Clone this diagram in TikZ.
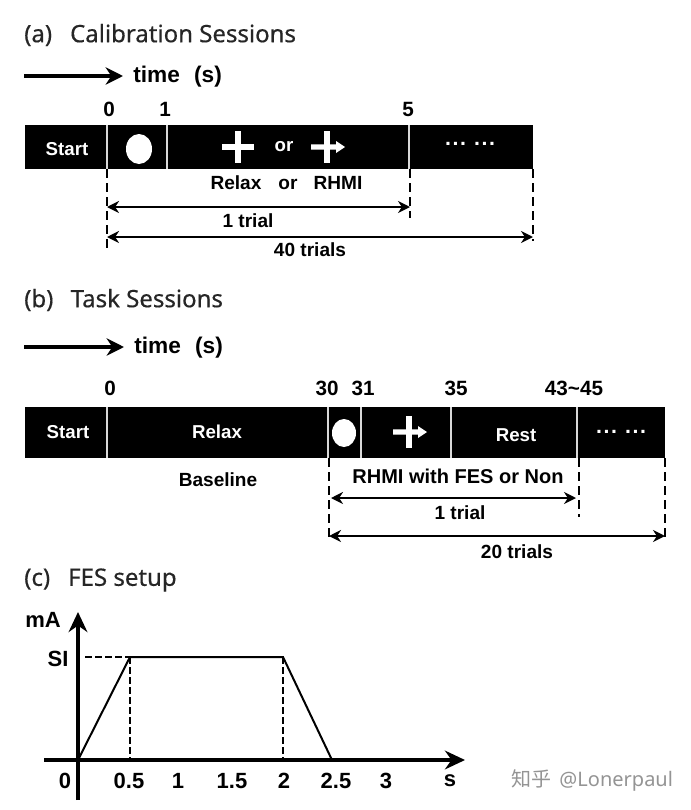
\documentclass[tikz,border=0pt]{standalone}
\usepackage{fontspec}
\setmainfont{Liberation Sans}
\newfontfamily\titlefont[FakeBold=0.4]{Noto Sans}
\newfontfamily\wmfont{Noto Sans}
\newfontfamily\cjkfont{Noto Sans CJK SC}
\usetikzlibrary{arrows.meta}
\tikzset{
  x=0.75pt,y=-0.75pt,
  title/.style={font=\titlefont\fontsize{18}{20}\selectfont,text=black!85,anchor=west,inner sep=0pt},
  lab/.style={font=\bfseries\fontsize{14.3}{16}\selectfont,inner sep=0pt,text=black},
  rowlab/.style={lab,anchor=base},
  num/.style={font=\bfseries\fontsize{15.5}{17}\selectfont,inner sep=0pt,text=black},
  big/.style={font=\bfseries\fontsize{16.5}{18}\selectfont,inner sep=0pt,text=black},
  timelab/.style={font=\bfseries\fontsize{17}{19}\selectfont,inner sep=0pt,anchor=west},
  inbar/.style={font=\bfseries\fontsize{14}{16}\selectfont,inner sep=0pt,text=white},
  dotlab/.style={font=\bfseries\fontsize{16}{18}\selectfont,inner sep=0pt,text=white},
  barbox/.style={fill=black,draw=none},
  sep/.style={draw=white!85!black,line width=0.8pt},
  timearrow/.style={line width=2.4pt,-{Stealth[length=13pt,width=13pt]}},
  span/.style={line width=2.2pt,{Stealth[length=9pt,width=9pt]}-{Stealth[length=9pt,width=9pt]}},
  guide/.style={line width=1pt,dash pattern=on 7pt off 3.5pt},
  axis/.style={line width=2.6pt,-{Stealth[length=15pt,width=14pt]}},
  curve/.style={line width=1.5pt,line join=miter},
  guidec/.style={line width=1pt,dash pattern=on 5pt off 2.5pt},
}
\newcommand{\plusmark}[2]{\fill[white] (#1-16,#2-2.6) rectangle (#1+16,#2+2.6);\fill[white] (#1-2.6,#2-16) rectangle (#1+2.6,#2+16);}
\newcommand{\plusarrow}[2]{\fill[white] (#1-16,#2-2.6) -- (#1+9,#2-2.6) -- (#1+9,#2-6) -- (#1+18,#2) -- (#1+9,#2+6) -- (#1+9,#2+2.6) -- (#1-16,#2+2.6) -- cycle;\fill[white] (#1-2.6,#2-16) rectangle (#1+2.6,#2+16);}
\newcommand{\dotrun}{.\kern1.2pt.\kern1.2pt.\kern6pt.\kern1.2pt.\kern1.2pt.}
\begin{document}
\begin{tikzpicture}
\useasboundingbox (0,0) rectangle (691,810);
\fill[white] (0,0) rectangle (691,810);
% (a)
\node[title] (ta) at (24,35) {(a)\hspace{13.5pt}Calibration Sessions};
\coordinate (a1s) at (24,76); \coordinate (a1e) at (123,76);
\draw[timearrow] (a1s) -- (a1e);
\node[timelab] (tima) at (133,77) {time\hspace{6pt} (s)};
\node[num] (a0) at (109,109) {0};
\node[num] (a1) at (165,109) {1};
\node[num] (a5) at (408,109) {5};
\fill[barbox] (25,125) rectangle (533,169);
\foreach \x in {107,167,409}{\draw[sep] (\x,125) -- (\x,169);}
\node[inbar] (astart) at (67,149) {Start};
\fill[white] (139,149) ellipse [x radius=13,y radius=15];
\plusmark{238}{147}
\node[inbar] (aor) at (284,147) {or};
\plusarrow{327}{147}
\node[dotlab] (adots) at (470,144) {\dotrun};
\node[rowlab] (arelax) at (236,189.5) {Relax};
\node[rowlab] (aor2) at (288,189.5) {or};
\node[rowlab] (armhi) at (338,189.5) {RHMI};
\coordinate (ag1) at (107,169); \coordinate (ag1e) at (107,248);
\coordinate (ag2) at (410,169); \coordinate (ag2e) at (410,218);
\coordinate (ag3) at (533,169); \coordinate (ag3e) at (533,241);
\draw[guide] (ag1) -- (ag1e);
\draw[guide] (ag2) -- (ag2e);
\draw[guide] (ag3) -- (ag3e);
\coordinate (as1) at (107,207); \coordinate (as2) at (410,207);
\coordinate (as3) at (107,237); \coordinate (as4) at (533,237);
\draw[span] (as1) -- (as2);
\draw[span] (as3) -- (as4);
\node[lab] (a1t) at (248,221) {1 trial};
\node[lab] (a40) at (310,250) {40 trials};
% (b)
\node[title] (tb) at (24,300) {(b)\hspace{13pt}Task Sessions};
\coordinate (b1s) at (24,347); \coordinate (b1e) at (124,347);
\draw[timearrow] (b1s) -- (b1e);
\node[timelab] (timb) at (134,348) {time\hspace{6pt} (s)};
\node[num] (b0) at (110,388) {0};
\node[num] (b30) at (327,388) {30};
\node[num] (b31) at (363,388) {31};
\node[num] (b35) at (456,388) {35};
\node[num] (b43) at (574,388) {43\textasciitilde 45};
\fill[barbox] (25,407) rectangle (665,458);
\foreach \x in {107,328,361,451,577}{\draw[sep] (\x,407) -- (\x,458);}
\node[inbar] (bstart) at (68,432) {Start};
\node[inbar] (brelax) at (217,432) {Relax};
\fill[white] (344,433) ellipse [x radius=12,y radius=14];
\plusarrow{409}{432}
\node[inbar] (brest) at (516,435) {Rest};
\node[dotlab] (bdots) at (621,432) {\dotrun};
\node[lab] (bbase) at (218,480) {Baseline};
\node[lab,font=\bfseries\fontsize{15}{17}\selectfont] (brhmi) at (458,476) {RHMI with FES or Non};
\coordinate (bg1) at (329,458); \coordinate (bg1e) at (329,540);
\coordinate (bg2) at (579,458); \coordinate (bg2e) at (579,517);
\coordinate (bg3) at (665,458); \coordinate (bg3e) at (665,540);
\draw[guide] (bg1) -- (bg1e);
\draw[guide] (bg2) -- (bg2e);
\draw[guide] (bg3) -- (bg3e);
\coordinate (bs1) at (331,498); \coordinate (bs2) at (576,498);
\coordinate (bs3) at (329,536); \coordinate (bs4) at (665,536);
\draw[span] (bs1) -- (bs2);
\draw[span] (bs3) -- (bs4);
\node[lab] (b1t) at (460,513) {1 trial};
\node[lab] (b20) at (517,552) {20 trials};
% (c)
\node[title] (tc) at (24,580) {(c)\hspace{13.5pt}FES setup};
\coordinate (o) at (78,760); \coordinate (ya) at (78,800); \coordinate (yb) at (78,612);
\coordinate (xa) at (44,760); \coordinate (xb) at (465,760);
\draw[axis] (ya) -- (yb);
\draw[axis] (xa) -- (xb);
\coordinate (p1) at (130,657); \coordinate (p2) at (283,657); \coordinate (p3) at (332,760);
\coordinate (si) at (85,657); \coordinate (d1) at (130,760); \coordinate (d2) at (283,760);
\draw[curve] (o) -- (p1) -- (p2) -- (p3);
\draw[guidec] (si) -- (p1);
\draw[guidec] (p1) -- (d1);
\draw[guidec] (p2) -- (d2);
\node[big] (ma) at (43,620) {mA};
\node[big] (sil) at (58,659) {SI};
\node[big] (c0) at (65,781) {0};
\node[big] (c05) at (129,781) {0.5};
\node[big] (c1) at (178,781) {1};
\node[big] (c15) at (232,781) {1.5};
\node[big] (c2) at (284,781) {2};
\node[big] (c25) at (336,781) {2.5};
\node[big] (c3) at (386,781) {3};
\node[big] (cs) at (450,781) {s};
\node[font=\fontsize{15}{17}\selectfont,text=black!42,anchor=west,inner sep=0pt] (wm) at (511,780) {{\cjkfont 知乎} \hspace{2pt}{\wmfont @Lonerpaul}};
\end{tikzpicture}
\end{document}
